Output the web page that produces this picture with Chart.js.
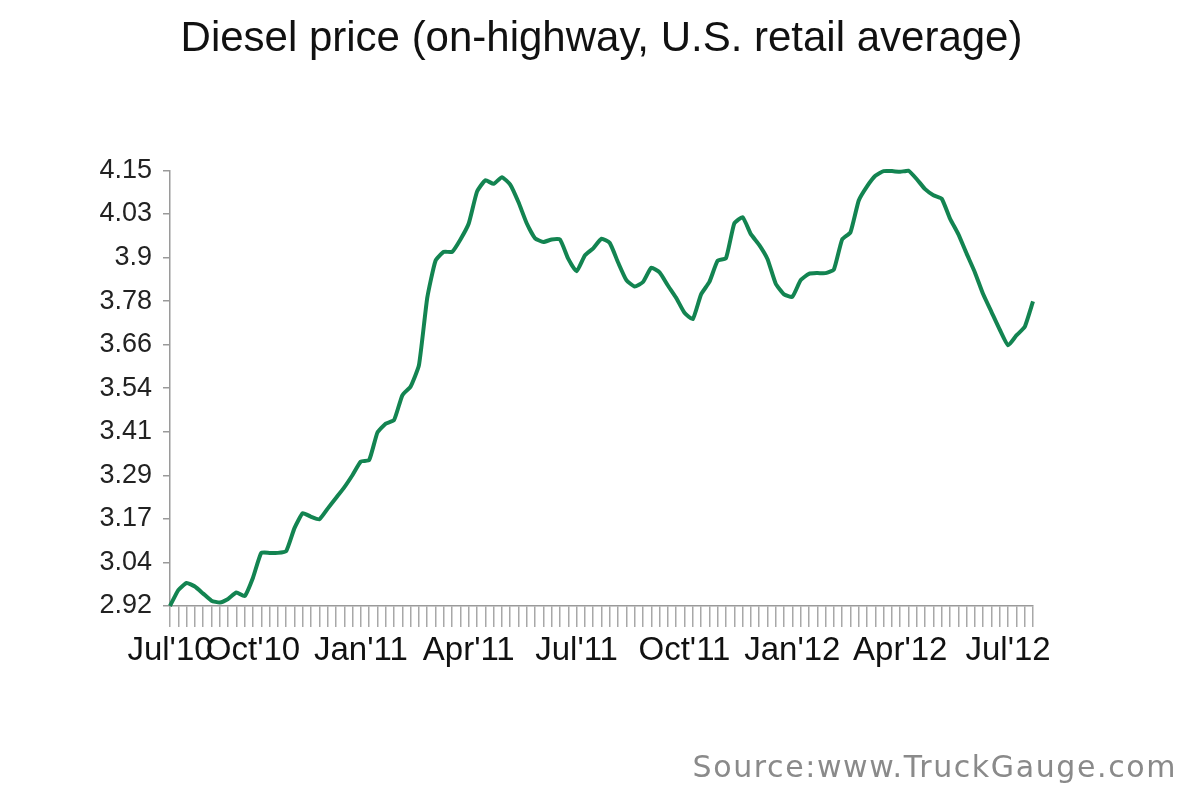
<!DOCTYPE html>
<html>
<head>
<meta charset="utf-8">
<title>Diesel price</title>
<script src="https://cdn.jsdelivr.net/npm/chart.js@4.4.1/dist/chart.umd.min.js"></script>
<style>
  html, body { margin: 0; padding: 0; background: #fff; }
  #wrap { width: 1200px; height: 801px; }
</style>
</head>
<body>
<div id="wrap"><canvas id="dieselChart" width="1200" height="801"></canvas></div>
<script>
// Weekly on-highway diesel price, week 0 = Jul 26 2010 (105 weeks)
const weekIndex = Array.from({ length: 105 }, (_, i) => i);

const dieselPrice = [
  2.92, 2.965, 2.985, 2.975, 2.955, 2.935, 2.93, 2.94, 2.958, 2.948,
  3.00, 3.07, 3.07, 3.07, 3.075, 3.14, 3.182, 3.172, 3.165, 3.195,
  3.225, 3.255, 3.29, 3.328, 3.332, 3.41, 3.435, 3.445, 3.515, 3.54,
  3.60, 3.79, 3.895, 3.92, 3.92, 3.955, 4.00, 4.09, 4.122, 4.112,
  4.131, 4.11, 4.06, 4.00, 3.958, 3.948, 3.955, 3.955, 3.90, 3.865,
  3.91, 3.93, 3.957, 3.945, 3.89, 3.84, 3.822, 3.835, 3.875, 3.862,
  3.825, 3.79, 3.748, 3.73, 3.80, 3.835, 3.895, 3.902, 4.00, 4.018,
  3.97, 3.94, 3.90, 3.83, 3.80, 3.793, 3.84, 3.858, 3.86, 3.86,
  3.87, 3.955, 3.975, 4.065, 4.105, 4.135, 4.148, 4.148, 4.146, 4.149,
  4.125, 4.097, 4.08, 4.07, 4.014, 3.97, 3.915, 3.862, 3.80, 3.75,
  3.70, 3.656, 3.684, 3.708, 3.78
];

// quarter labels and the week they sit on
const quarterWeeks = [0, 10, 23, 36, 49, 62, 75, 88, 101];
const quarterLabels = ["Jul'10", "Oct'10", "Jan'11", "Apr'11", "Jul'11", "Oct'11", "Jan'12", "Apr'12", "Jul'12"];

const yMin = 2.92;
const yMax = 4.15;
const yTickLabels = ['2.92', '3.04', '3.17', '3.29', '3.41', '3.54', '3.66', '3.78', '3.9', '4.03', '4.15'];

const sourceText = 'Source:www.TruckGauge.com';

// draws the source line in the bottom right corner
const sourcePlugin = {
  id: 'sourceNote',
  afterDraw(chart) {
    const ctx = chart.ctx;
    ctx.save();
    ctx.font = '30px "DejaVu Sans"';
    ctx.letterSpacing = '1.6px';
    ctx.fillStyle = '#8a8a8a';
    ctx.textAlign = 'right';
    ctx.textBaseline = 'middle';
    ctx.fillText(sourceText, 1177, 769);
    ctx.restore();
  }
};

function createDieselChart() {
  const ctx = document.getElementById('dieselChart').getContext('2d');
  const myChart = new Chart(ctx, {
    type: 'line',
    data: {
      labels: weekIndex,
      datasets: [{
        label: 'Diesel price',
        data: dieselPrice,
        borderColor: '#138451',
        borderWidth: 4,
        pointRadius: 0,
        tension: 0.15,
        borderJoinStyle: 'round',
        fill: false,
        clip: false
      }]
    },
    options: {
      responsive: false,
      animation: false,
      layout: {
        padding: { left: 30, right: 167, top: 0, bottom: 115 }
      },
      plugins: {
        legend: { display: false },
        tooltip: { enabled: false },
        title: {
          display: true,
          text: 'Diesel price (on-highway, U.S. retail average)',
          fullSize: false,
          color: '#111',
          font: { family: '"Liberation Sans", Arial, sans-serif', size: 42, weight: 'normal' },
          padding: { top: 14, bottom: 106 }
        }
      },
      scales: {
        x: {
          type: 'category',
          offset: false,
          border: { color: '#9a9a9a', width: 1.5 },
          grid: {
            drawOnChartArea: false,
            drawTicks: true,
            tickLength: 21,
            color: '#a8a8a8',
            lineWidth: 1.5
          },
          ticks: {
            autoSkip: false,
            maxRotation: 0,
            minRotation: 0,
            padding: 4,
            color: '#111',
            font: { family: '"Liberation Sans", Arial, sans-serif', size: 33 },
            callback: function(value, index) {
              const q = quarterWeeks.indexOf(index);
              return q >= 0 ? quarterLabels[q] : '';
            }
          },
          afterFit: function(scale) {
            scale.height = 80;
          }
        },
        y: {
          min: yMin,
          max: yMax,
          border: { color: '#9a9a9a', width: 1.5 },
          grid: {
            drawOnChartArea: false,
            drawTicks: true,
            tickLength: 7,
            color: '#9a9a9a',
            lineWidth: 1.5
          },
          ticks: {
            padding: 11,
            color: '#222',
            font: { family: '"Liberation Sans", Arial, sans-serif', size: 27 },
            callback: function(value, index) {
              return yTickLabels[index];
            }
          },
          afterBuildTicks: function(axis) {
            const step = (yMax - yMin) / (yTickLabels.length - 1);
            axis.ticks = yTickLabels.map((l, i) => ({ value: yMin + i * step }));
          },
          afterFit: function(scale) {
            scale.width = 140;
          }
        }
      }
    },
    plugins: [sourcePlugin]
  });
}

createDieselChart();
</script>
</body>
</html>
